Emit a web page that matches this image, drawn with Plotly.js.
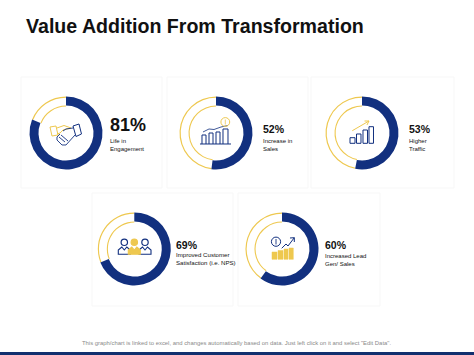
<!DOCTYPE html>
<html><head><meta charset="utf-8">
<script src="https://cdn.plot.ly/plotly-3.0.1.min.js"></script>
<style>html,body{margin:0;padding:0;background:#fff;overflow:hidden}</style>
</head><body><div id="chart" style="width:474px;height:355px"></div>
<script>
const W = 474, H = 355;
const NAVY = '#12307f', GOLD = '#eec84f', LINE = '#f7f7f7';

const categories = ['Life in<br>Engagement', 'Increase in<br>Sales', 'Higher<br>Traffic',
  'Improved Customer<br>Satisfaction (i.e. NPS)', 'Increased Lead<br>Gen/ Sales'];
const percentValues = [81, 52, 53, 69, 60];
const centerX = [66, 216, 362, 134.3, 282];
const centerY = [133, 133, 133, 249, 249];
const valueTextX = [109.5, 263, 409, 176, 325];
const valueTextY = [125, 129, 129, 244.5, 244.5];
const labelTextY = [144.5, 144.5, 144.5, 258.5, 260];
const valueFontSize = [18, 10.5, 10.5, 10.5, 10.5];
const labelFontSize = [6, 6, 6, 6.1, 6];
const cards = [[21,77,162,188],[167,77,308,188],[311,77,454,188],[92,193,233,306],[238,193,380,306]];

const R = 36.5, RI = 27.5;
const px = x => x / W, py = y => 1 - y / H;
function dom(cx, cy, r) {
  return {x: [(cx - r) / W, (cx + r) / W], y: [1 - (cy + r) / H, 1 - (cy - r) / H]};
}
const traces = [];
percentValues.forEach((v, i) => {
  const base = {type: 'pie', values: [v, 100 - v], labels: ['Value', 'Rest'], sort: false,
    direction: 'clockwise', rotation: 0, textinfo: 'none', hoverinfo: 'skip', showlegend: false};
  traces.push(Object.assign({}, base, {domain: dom(centerX[i], centerY[i], R), hole: 0.968,
    marker: {colors: ['rgba(0,0,0,0)', GOLD], line: {width: 0}}}));
  traces.push(Object.assign({}, base, {domain: dom(centerX[i], centerY[i], RI), hole: 0.96,
    marker: {colors: ['rgba(0,0,0,0)', GOLD], line: {width: 0}}}));
  traces.push(Object.assign({}, base, {domain: dom(centerX[i], centerY[i], R), hole: RI / R,
    marker: {colors: [NAVY, 'rgba(0,0,0,0)'], line: {width: 0}}}));
});

// decorative pixel-space helpers
function P(d, color, w, fill) {
  let n = 0;
  const path = d.replace(/-?\d+(\.\d+)?/g, m => { const t = (n++ % 2 === 0) ? px(+m) : py(+m); return t.toFixed(5); });
  return {type: 'path', xref: 'paper', yref: 'paper', path, line: {color, width: w === undefined ? 1 : w}, fillcolor: fill || 'rgba(0,0,0,0)', layer: 'above'};
}
function C(cx, cy, r, color, w, fill) {
  return {type: 'circle', xref: 'paper', yref: 'paper', x0: px(cx - r), x1: px(cx + r), y0: py(cy + r), y1: py(cy - r),
    line: {color, width: w === undefined ? 1 : w}, fillcolor: fill || 'rgba(0,0,0,0)', layer: 'above'};
}
const shapes = [];
shapes.push({type: 'rect', xref: 'paper', yref: 'paper', x0: 0, x1: 1, y0: 0, y1: 3 / H, fillcolor: '#12306f', line: {width: 0}, layer: 'below'});
cards.forEach(c => shapes.push({type: 'rect', xref: 'paper', yref: 'paper', x0: px(c[0]), x1: px(c[2]), y0: py(c[3]), y1: py(c[1]),
  fillcolor: '#fff', line: {color: LINE, width: 1}, layer: 'below'}));

// handshake
shapes.push(P('M 50 127 L 56 126 L 58 135 L 52 136 Z', GOLD, 1));
shapes.push(P('M 57 128 L 64 125.5 L 71 128 L 63 130 L 60 133 L 57 134', GOLD, 1));
shapes.push(P('M 73 126 L 79 124 L 81.5 134 L 76 136.5 Z', NAVY, 1));
shapes.push(P('M 73 128 L 66 129 L 63 131 M 75 135 L 66 145 L 62 145 L 57 140 L 57 137 L 60 134 M 59 137 L 65 142 M 61 135 L 68 141', NAVY, 0.9));
// bars + coin
shapes.push(P('M 200 144 L 231 144', NAVY, 1));
[[202,206,135],[209,213,133],[216,220,132],[223,228,129]].forEach(b =>
  shapes.push(P(`M ${b[0]} 144 L ${b[0]} ${b[2]} L ${b[1]} ${b[2]} L ${b[1]} 144`, NAVY, 1)));
shapes.push(P('M 203 132 L 209 129 L 214 129.5 L 221 127 L 228 125.5', NAVY, 0.8));
shapes.push(C(225.3, 122, 4.4, GOLD, 1));
shapes.push(P('M 225.3 119.5 L 225.3 124.5', GOLD, 0.8));
// bars + arrow
[[350,355,137.7],[356.5,361,134],[363,367.5,130],[369,373.5,126.7]].forEach(b =>
  shapes.push(P(`M ${b[0]} 143.3 L ${b[0]} ${b[2]} L ${b[1]} ${b[2]} L ${b[1]} 143.3 Z`, NAVY, 1)));
shapes.push(P('M 352.3 130.7 L 369 121 M 364.5 121 L 369 121 L 367 125', GOLD, 1));
// people
[[124.3,NAVY],[145,NAVY],[134.3,GOLD]].forEach(a => {
  const x = a[0];
  shapes.push(C(x, 242.3, 3.2, a[1], 1.2, a[1] === GOLD ? GOLD : undefined));
  shapes.push(P(`M ${x-6} 254.3 L ${x-6} 250 L ${x-2.5} 247 L ${x} 250 L ${x+2.5} 247 L ${x+6} 250 L ${x+6} 254.3 Z`, a[1], 1.1, a[1] === GOLD ? GOLD : '#fff'));
});
// lead gen
shapes.push(C(276, 241.7, 4.6, NAVY, 1));
shapes.push(P('M 276 239 L 276 244.5', NAVY, 0.9));
shapes.push(P('M 281.7 248.3 L 286 244 L 288 246 L 294.3 237.7 M 290 238 L 294.3 237.7 L 294.3 242', NAVY, 1));
[[272,277,252],[278,283,250.5],[284,288,249],[289,293.3,248]].forEach(b =>
  shapes.push(P(`M ${b[0]} 259.3 L ${b[0]} ${b[2]} L ${b[1]} ${b[2]} L ${b[1]} 259.3 Z`, GOLD, 0.5, GOLD)));

const FONT = '"Liberation Sans", Arial, sans-serif';
function note(text, x, y, size, opts) {
  return Object.assign({text, xref: 'paper', yref: 'paper', x: px(x), y: py(y), xanchor: 'left', yanchor: 'middle',
    align: 'left', showarrow: false, borderpad: 0, borderwidth: 0, font: {family: FONT, size, color: '#111'}}, opts || {});
}
const annotations = [];
percentValues.forEach((v, i) => {
  annotations.push(note('<b>' + v + '%</b>', valueTextX[i], valueTextY[i], valueFontSize[i]));
  annotations.push(note(categories[i], valueTextX[i], labelTextY[i], labelFontSize[i], {font: {family: FONT, size: labelFontSize[i], color: '#111'}}));
});
annotations.push(note('This graph/chart is linked to excel, and changes automatically based on data. Just left click on it and select "Edit Data".',
  82, 343, 5.9, {font: {family: FONT, size: 5.9, color: '#8a8a8a'}}));

Plotly.newPlot('chart', traces, {
  width: W, height: H, margin: {l: 0, r: 0, t: 0, b: 0}, paper_bgcolor: '#fff', plot_bgcolor: '#fff',
  showlegend: false, shapes, annotations,
  title: {text: '<b>Value Addition From Transformation</b>', font: {family: FONT, size: 19.6, color: '#111'},
    x: 26 / W, xanchor: 'left', xref: 'paper', y: py(26), yanchor: 'middle', yref: 'container'}
}, {staticPlot: true, displayModeBar: false});
</script></body></html>
